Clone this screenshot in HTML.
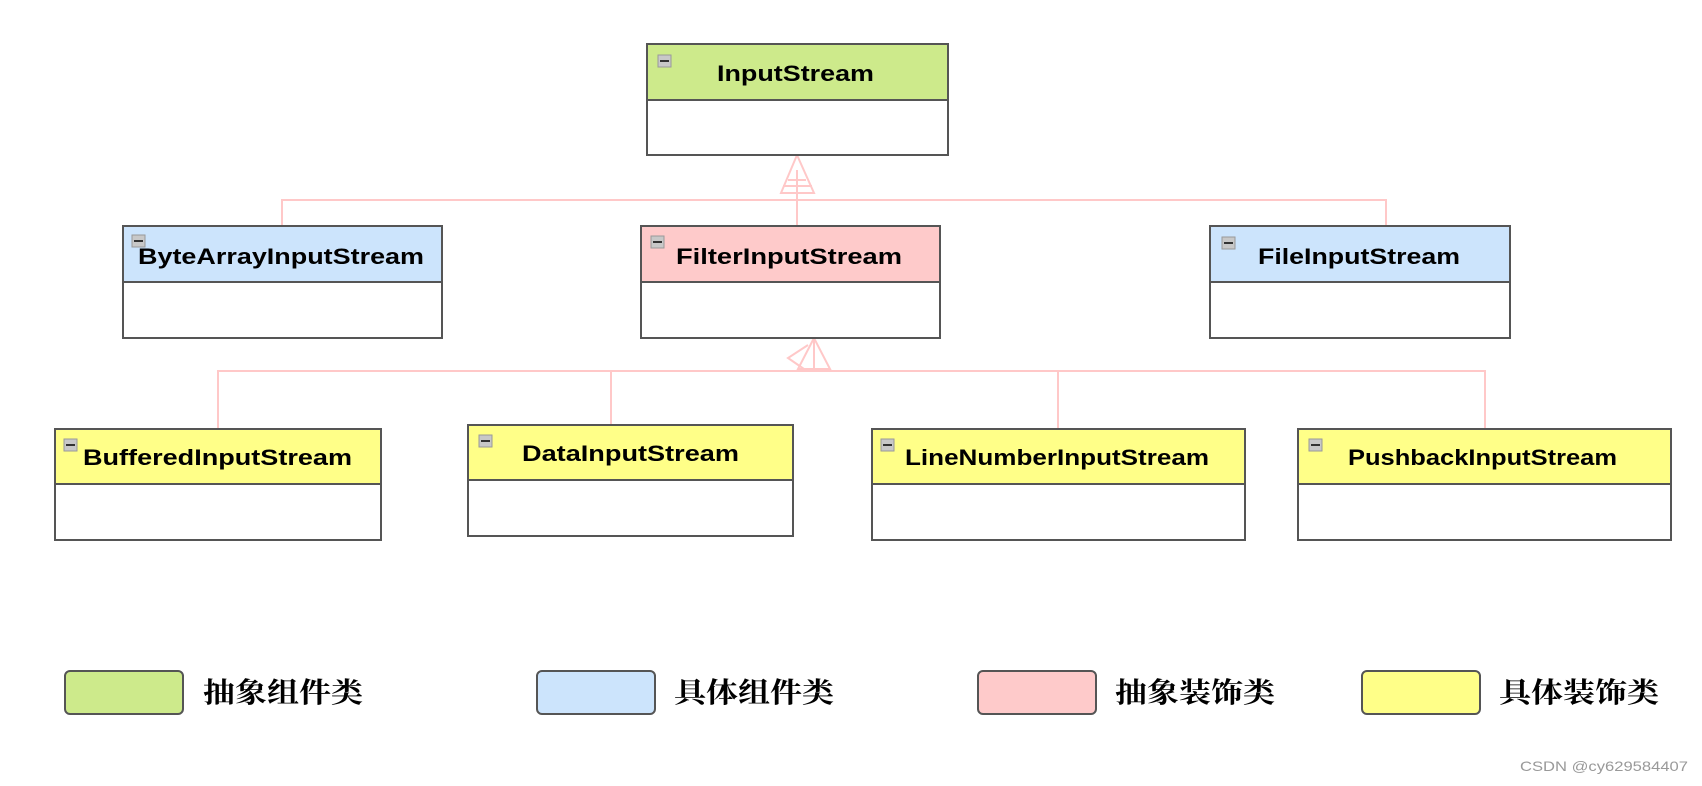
<!DOCTYPE html>
<html><head><meta charset="utf-8"><style>
html,body{margin:0;padding:0;background:#fff;}
svg{display:block;}
.t{font-family:"Liberation Sans",sans-serif;font-weight:bold;font-size:22px;fill:#000;}
.c{font-family:"Liberation Serif","Noto Serif CJK SC",serif;font-weight:bold;font-size:28px;fill:#000;}
.box{stroke:#555;stroke-width:2;}
.ln{stroke:#ffc8c8;stroke-width:2;fill:none;}
</style></head><body>
<svg width="1702" height="786" viewBox="0 0 1702 786" xmlns="http://www.w3.org/2000/svg">
<defs>
<g id="ic"><rect x="0" y="0" width="13" height="12" fill="#c8c8c8" stroke="#999" stroke-width="1"/><rect x="2" y="5" width="9" height="2" fill="#333"/></g>
</defs>
<!-- connectors -->
<path class="ln" d="M282 226V200H1386V226 M797 226V170"/>
<path class="ln" d="M797 155L781 193H814Z M783 186H812 M788 180H806"/>
<path class="ln" d="M218 429V371H1485V429 M611 424V371 M1058 429V371"/>
<path class="ln" d="M814 338L798 369H830Z M814 338V369 M808 345L788 358L804 369"/>
<!-- boxes -->
<g>
<rect x="647" y="44" width="301" height="56" fill="#cdea8b" class="box"/><rect x="647" y="100" width="301" height="55" fill="#fff" class="box"/>
<use href="#ic" x="658" y="55"/><text class="t" x="717" y="81" textLength="157" lengthAdjust="spacingAndGlyphs">InputStream</text>

<rect x="123" y="226" width="319" height="56" fill="#cce4fc" class="box"/><rect x="123" y="282" width="319" height="56" fill="#fff" class="box"/>
<use href="#ic" x="132" y="235"/><text class="t" x="138" y="264" textLength="286" lengthAdjust="spacingAndGlyphs">ByteArrayInputStream</text>

<rect x="641" y="226" width="299" height="56" fill="#fecaca" class="box"/><rect x="641" y="282" width="299" height="56" fill="#fff" class="box"/>
<use href="#ic" x="651" y="236"/><text class="t" x="676" y="264" textLength="226" lengthAdjust="spacingAndGlyphs">FilterInputStream</text>

<rect x="1210" y="226" width="300" height="56" fill="#cce4fc" class="box"/><rect x="1210" y="282" width="300" height="56" fill="#fff" class="box"/>
<use href="#ic" x="1222" y="237"/><text class="t" x="1258" y="264" textLength="202" lengthAdjust="spacingAndGlyphs">FileInputStream</text>

<rect x="55" y="429" width="326" height="55" fill="#ffff88" class="box"/><rect x="55" y="484" width="326" height="56" fill="#fff" class="box"/>
<use href="#ic" x="64" y="439"/><text class="t" x="83" y="465" textLength="269" lengthAdjust="spacingAndGlyphs">BufferedInputStream</text>

<rect x="468" y="425" width="325" height="55" fill="#ffff88" class="box"/><rect x="468" y="480" width="325" height="56" fill="#fff" class="box"/>
<use href="#ic" x="479" y="435"/><text class="t" x="522" y="461" textLength="217" lengthAdjust="spacingAndGlyphs">DataInputStream</text>

<rect x="872" y="429" width="373" height="55" fill="#ffff88" class="box"/><rect x="872" y="484" width="373" height="56" fill="#fff" class="box"/>
<use href="#ic" x="881" y="439"/><text class="t" x="905" y="465" textLength="304" lengthAdjust="spacingAndGlyphs">LineNumberInputStream</text>

<rect x="1298" y="429" width="373" height="55" fill="#ffff88" class="box"/><rect x="1298" y="484" width="373" height="56" fill="#fff" class="box"/>
<use href="#ic" x="1309" y="439"/><text class="t" x="1348" y="465" textLength="269" lengthAdjust="spacingAndGlyphs">PushbackInputStream</text>
</g>
<!-- legend -->
<rect x="65" y="671" width="118" height="43" rx="5" fill="#cdea8b" stroke="#555" stroke-width="2"/>
<text class="c" x="203" y="702" textLength="160" lengthAdjust="spacingAndGlyphs">抽象组件类</text>
<rect x="537" y="671" width="118" height="43" rx="5" fill="#cce4fc" stroke="#555" stroke-width="2"/>
<text class="c" x="674" y="702" textLength="160" lengthAdjust="spacingAndGlyphs">具体组件类</text>
<rect x="978" y="671" width="118" height="43" rx="5" fill="#fecaca" stroke="#555" stroke-width="2"/>
<text class="c" x="1115" y="702" textLength="160" lengthAdjust="spacingAndGlyphs">抽象装饰类</text>
<rect x="1362" y="671" width="118" height="43" rx="5" fill="#ffff88" stroke="#555" stroke-width="2"/>
<text class="c" x="1499" y="702" textLength="160" lengthAdjust="spacingAndGlyphs">具体装饰类</text>
<text x="1520" y="771" font-family="Liberation Sans,sans-serif" font-size="14" fill="#999" textLength="168" lengthAdjust="spacingAndGlyphs">CSDN @cy629584407</text>
</svg>
</body></html>
